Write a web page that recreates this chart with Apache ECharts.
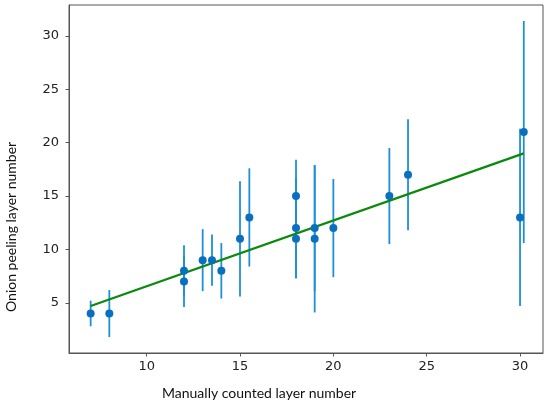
<!DOCTYPE html>
<html>
<head>
<meta charset="utf-8">
<script src="https://cdn.jsdelivr.net/npm/echarts@6/dist/echarts.min.js"></script>
<style>
html,body{margin:0;padding:0;background:#fff;}
#chart{width:550px;height:406px;}
</style>
</head>
<body>
<div id="chart"></div>
<script>
// Manually counted layer number (x) and onion peeling layer number (y)
const manualCounts = [7, 8, 12, 12, 13, 13.5, 14, 15, 15.5, 18, 18, 18, 19, 19, 20, 23, 24, 30, 30.2];
const peelingCounts = [4, 4, 8, 7, 9, 9, 8, 11, 13, 15, 12, 11, 12, 11, 12, 15, 17, 13, 21];
const peelingErrors = [1.2, 2.2, 2.4, 2.4, 2.9, 2.4, 2.6, 5.4, 4.6, 3.4, 4.7, 3.7, 5.9, 6.9, 4.6, 4.5, 5.2, 8.3, 10.4];
// Fitted line endpoints
const fitX = [7, 30.2];
const fitY = [4.7, 19.0];
const xTicks = [10, 15, 20, 25, 30];
const yTicks = [5, 10, 15, 20, 25, 30];

const points = manualCounts.map((x, i) => [x, peelingCounts[i]]);
const errorData = manualCounts.map((x, i) => [x, peelingCounts[i] - peelingErrors[i], peelingCounts[i] + peelingErrors[i]]);
const fitData = fitX.map((x, i) => [x, fitY[i]]);

const chart = echarts.init(document.getElementById('chart'), null, {renderer: 'canvas'});
const tickFont = {fontFamily: 'DejaVu Sans', fontSize: 13, color: '#222'};
chart.setOption({
  animation: false,
  grid: {left: 69, right: 7, top: 5, bottom: 53, show: true, borderColor: '#555', borderWidth: 1},
  xAxis: {
    type: 'value', min: 5.84, max: 31.23,
    axisLine: {show: true, lineStyle: {color: '#555', width: 1}},
    axisTick: {show: true, length: 3.5, customValues: xTicks, lineStyle: {color: '#555'}},
    axisLabel: Object.assign({margin: 7, customValues: xTicks}, tickFont),
    splitLine: {show: false}
  },
  yAxis: {
    type: 'value', min: 0.3, max: 32.9,
    axisLine: {show: true, lineStyle: {color: '#555', width: 1}},
    axisTick: {show: true, length: 3.5, customValues: yTicks, lineStyle: {color: '#555'}},
    axisLabel: Object.assign({margin: 10, customValues: yTicks}, tickFont),
    splitLine: {show: false}
  },
  graphic: [
    {type: 'text', left: 162, top: 386, style: {text: 'Manually counted layer number', font: '14px Lato', fill: '#111'}},
    {type: 'text', x: 4, y: 312, rotation: Math.PI / 2, style: {text: 'Onion peeling layer number', font: '14px Lato', fill: '#111'}}
  ],
  series: [
    {
      type: 'custom', z: 1,
      data: errorData,
      renderItem: function (params, api) {
        const p1 = api.coord([api.value(0), api.value(1)]);
        const p2 = api.coord([api.value(0), api.value(2)]);
        return {type: 'line', shape: {x1: p1[0], y1: p1[1], x2: p2[0], y2: p2[1]},
          style: {stroke: '#1f8fd6', lineWidth: 1.8}};
      }
    },
    {
      type: 'line', z: 2, data: fitData, symbol: 'none',
      lineStyle: {color: '#0a8a0a', width: 2.2}
    },
    {
      type: 'scatter', z: 3, data: points, symbol: 'circle', symbolSize: 8,
      itemStyle: {color: '#0b6fbf', opacity: 1}
    }
  ]
});
</script>
</body>
</html>
